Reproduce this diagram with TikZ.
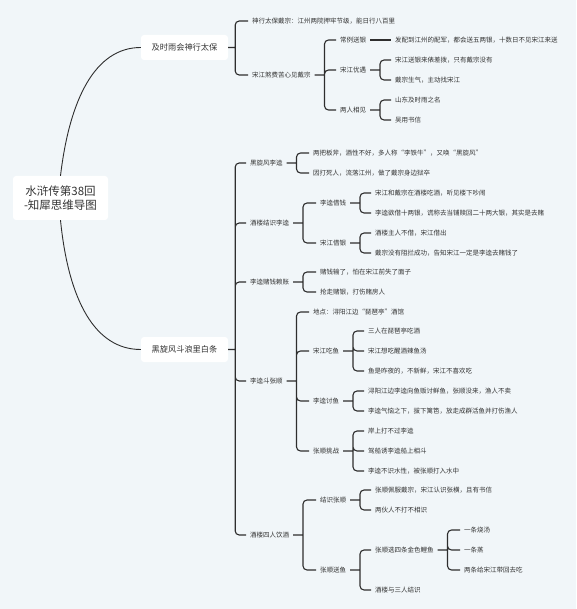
\documentclass[tikz,border=0pt]{standalone}
\usepackage{fontspec}
\setmainfont{Noto Sans CJK SC}
\definecolor{paper}{HTML}{F1F6F9}
\definecolor{ink}{HTML}{333333}
\definecolor{wire}{HTML}{2E2E2E}

\begin{document}
\begin{tikzpicture}[x=1pt, y=-1pt,
  hubbox/.style={fill=white, rounded corners=3pt, minimum width=95pt, minimum height=44pt, align=center, font=\fontsize{11.5}{14}\selectfont, text=ink},
  topic/.style={fill=white, rounded corners=3pt, minimum width=87pt, minimum height=25pt, font=\fontsize{8.2}{10}\selectfont, text=ink},
  leaf/.style={anchor=west, inner sep=1pt, outer sep=3pt, font=\fontsize{6.5}{8}\selectfont, text=ink},
  link/.style={draw=wire, line width=1.1pt, rounded corners=4pt},
  trunk/.style={draw=wire, line width=0.9pt}
]
  \fill[paper] (0,0) rectangle (576,609);

  \node[hubbox] (root) at (60.5,198) {水浒传第38回\\-知犀思维导图};
  \node[topic] (rain) at (184.5,47.5) {及时雨会神行太保};
  \node[topic] (whirl) at (184.5,349.5) {黑旋风斗浪里白条};

  % 及时雨会神行太保
  \node[leaf] (dai) at (248,21) {神行太保戴宗：江州两院押牢节级，能日行八百里};
  \node[leaf] (seek) at (248,75) {宋江煞费苦心见戴宗};
  \node[leaf] (rule) at (336,40) {常例送银};
  \node[leaf] (ruletxt) at (391,40) {发配到江州的配军，都会送五两银，十数日不见宋江来送};
  \node[leaf] (treat) at (336,70) {宋江优遇};
  \node[leaf] (treat1) at (391,60) {宋江送银来俵差拨，只有戴宗没有};
  \node[leaf] (treat2) at (391,80) {戴宗生气，主动找宋江};
  \node[leaf] (meet) at (336,110) {两人相见};
  \node[leaf] (meet1) at (391,100) {山东及时雨之名};
  \node[leaf] (meet2) at (391,120) {吴用书信};

  % 黑旋风斗浪里白条
  \node[leaf] (kui) at (246,163) {黑旋风李逵};
  \node[leaf] (kui1) at (309,153) {两把板斧，酒性不好，多人称“李铁牛”，又唤“黑旋风”};
  \node[leaf] (kui2) at (309,173) {因打死人，流落江州，做了戴宗身边狱卒};
  \node[leaf] (inn) at (246,223) {酒楼结识李逵};
  \node[leaf] (borrow) at (316,203) {李逵借钱};
  \node[leaf] (borrow1) at (371,193) {宋江和戴宗在酒楼吃酒，听见楼下吵闹};
  \node[leaf] (borrow2) at (371,213) {李逵欲借十两银，谎称去当铺赎回二十两大银，其实是去赌};
  \node[leaf] (lend) at (316,243) {宋江借银};
  \node[leaf] (lend1) at (371,233) {酒楼主人不借，宋江借出};
  \node[leaf] (lend2) at (371,253) {戴宗没有阻拦成功，告知宋江一定是李逵去赌钱了};
  \node[leaf] (gamble) at (246,282) {李逵赌钱赖账};
  \node[leaf] (gamble1) at (316,272) {赌钱输了，怕在宋江前失了面子};
  \node[leaf] (gamble2) at (316,292) {抢走赌银，打伤赌房人};
  \node[leaf] (fight) at (246,381) {李逵斗张顺};
  \node[leaf] (place) at (309,312) {地点：浔阳江边“琵琶亭”酒馆};
  \node[leaf] (fish) at (309,351) {宋江吃鱼};
  \node[leaf] (fish1) at (364,331) {三人在琵琶亭吃酒};
  \node[leaf] (fish2) at (364,351) {宋江想吃醒酒辣鱼汤};
  \node[leaf] (fish3) at (364,371) {鱼是昨夜的，不新鲜，宋江不喜欢吃};
  \node[leaf] (ask) at (309,401) {李逵讨鱼};
  \node[leaf] (ask1) at (364,391) {浔阳江边李逵向鱼贩讨鲜鱼，张顺没来，渔人不卖};
  \node[leaf] (ask2) at (364,411) {李逵气恼之下，拔下篱笆，放走成群活鱼并打伤渔人};
  \node[leaf] (duel) at (309,451) {张顺挑战};
  \node[leaf] (duel1) at (364,431) {岸上打不过李逵};
  \node[leaf] (duel2) at (364,451) {驾船诱李逵船上相斗};
  \node[leaf] (duel3) at (364,471) {李逵不识水性，被张顺打入水中};
  \node[leaf] (feast) at (246,535) {酒楼四人饮酒};
  \node[leaf] (know) at (316,500) {结识张顺};
  \node[leaf] (know1) at (371,490) {张顺佩服戴宗，宋江认识张横，且有书信};
  \node[leaf] (know2) at (371,510) {两伙人不打不相识};
  \node[leaf] (gift) at (316,570) {张顺送鱼};
  \node[leaf] (carp) at (371,550) {张顺选四条金色鲤鱼};
  \node[leaf] (carp1) at (460,530) {一条烧汤};
  \node[leaf] (carp2) at (460,550) {一条蒸};
  \node[leaf] (carp3) at (460,570) {两条给宋江带回去吃};
  \node[leaf] (gift2) at (371,590) {酒楼与三人结识};

  % bracket joints
  \coordinate (rainj) at ([xshift=7pt]rain.east);
  \coordinate (whirlj) at ([xshift=7pt]whirl.east);
  \coordinate (seekj) at ([xshift=10pt]seek.east);
  \coordinate (treatj) at ([xshift=10pt]treat.east);
  \coordinate (meetj) at ([xshift=10pt]meet.east);
  \coordinate (kuij) at ([xshift=10pt]kui.east);
  \coordinate (innj) at ([xshift=10pt]inn.east);
  \coordinate (borrowj) at ([xshift=10pt]borrow.east);
  \coordinate (lendj) at ([xshift=10pt]lend.east);
  \coordinate (gamblej) at ([xshift=10pt]gamble.east);
  \coordinate (fightj) at ([xshift=10pt]fight.east);
  \coordinate (fishj) at ([xshift=10pt]fish.east);
  \coordinate (askj) at ([xshift=10pt]ask.east);
  \coordinate (duelj) at ([xshift=10pt]duel.east);
  \coordinate (feastj) at ([xshift=10pt]feast.east);
  \coordinate (knowj) at ([xshift=10pt]know.east);
  \coordinate (giftj) at ([xshift=10pt]gift.east);
  \coordinate (carpj) at ([xshift=10pt]carp.east);

  \draw[trunk] (root.north) .. controls +(9,-76) and +(-46,0) .. (rain.west);
  \draw[trunk] (root.south) .. controls +(8,80) and +(-46,0) .. (whirl.west);

  \draw[link] (rain.east) -- (rainj) (rainj) |- (dai.west) (rainj) |- (seek.west);
  \draw[link] (seek.east) -- (seekj) (seekj) |- (rule.west) (seekj) |- (treat.west) (seekj) |- (meet.west);
  \draw[link] (rule.east) -- (ruletxt.west);
  \draw[link] (treat.east) -- (treatj) (treatj) |- (treat1.west) (treatj) |- (treat2.west);
  \draw[link] (meet.east) -- (meetj) (meetj) |- (meet1.west) (meetj) |- (meet2.west);

  \draw[link] (whirl.east) -- (whirlj) (whirlj) |- (kui.west) (whirlj) |- (inn.west) (whirlj) |- (gamble.west) (whirlj) |- (fight.west) (whirlj) |- (feast.west);
  \draw[link] (kui.east) -- (kuij) (kuij) |- (kui1.west) (kuij) |- (kui2.west);
  \draw[link] (inn.east) -- (innj) (innj) |- (borrow.west) (innj) |- (lend.west);
  \draw[link] (borrow.east) -- (borrowj) (borrowj) |- (borrow1.west) (borrowj) |- (borrow2.west);
  \draw[link] (lend.east) -- (lendj) (lendj) |- (lend1.west) (lendj) |- (lend2.west);
  \draw[link] (gamble.east) -- (gamblej) (gamblej) |- (gamble1.west) (gamblej) |- (gamble2.west);
  \draw[link] (fight.east) -- (fightj) (fightj) |- (place.west) (fightj) |- (fish.west) (fightj) |- (ask.west) (fightj) |- (duel.west);
  \draw[link] (fish.east) -- (fishj) (fishj) |- (fish1.west) (fishj) |- (fish2.west) (fishj) |- (fish3.west);
  \draw[link] (ask.east) -- (askj) (askj) |- (ask1.west) (askj) |- (ask2.west);
  \draw[link] (duel.east) -- (duelj) (duelj) |- (duel1.west) (duelj) |- (duel2.west) (duelj) |- (duel3.west);
  \draw[link] (feast.east) -- (feastj) (feastj) |- (know.west) (feastj) |- (gift.west);
  \draw[link] (know.east) -- (knowj) (knowj) |- (know1.west) (knowj) |- (know2.west);
  \draw[link] (gift.east) -- (giftj) (giftj) |- (carp.west) (giftj) |- (gift2.west);
  \draw[link] (carp.east) -- (carpj) (carpj) |- (carp1.west) (carpj) |- (carp2.west) (carpj) |- (carp3.west);
\end{tikzpicture}
\end{document}
